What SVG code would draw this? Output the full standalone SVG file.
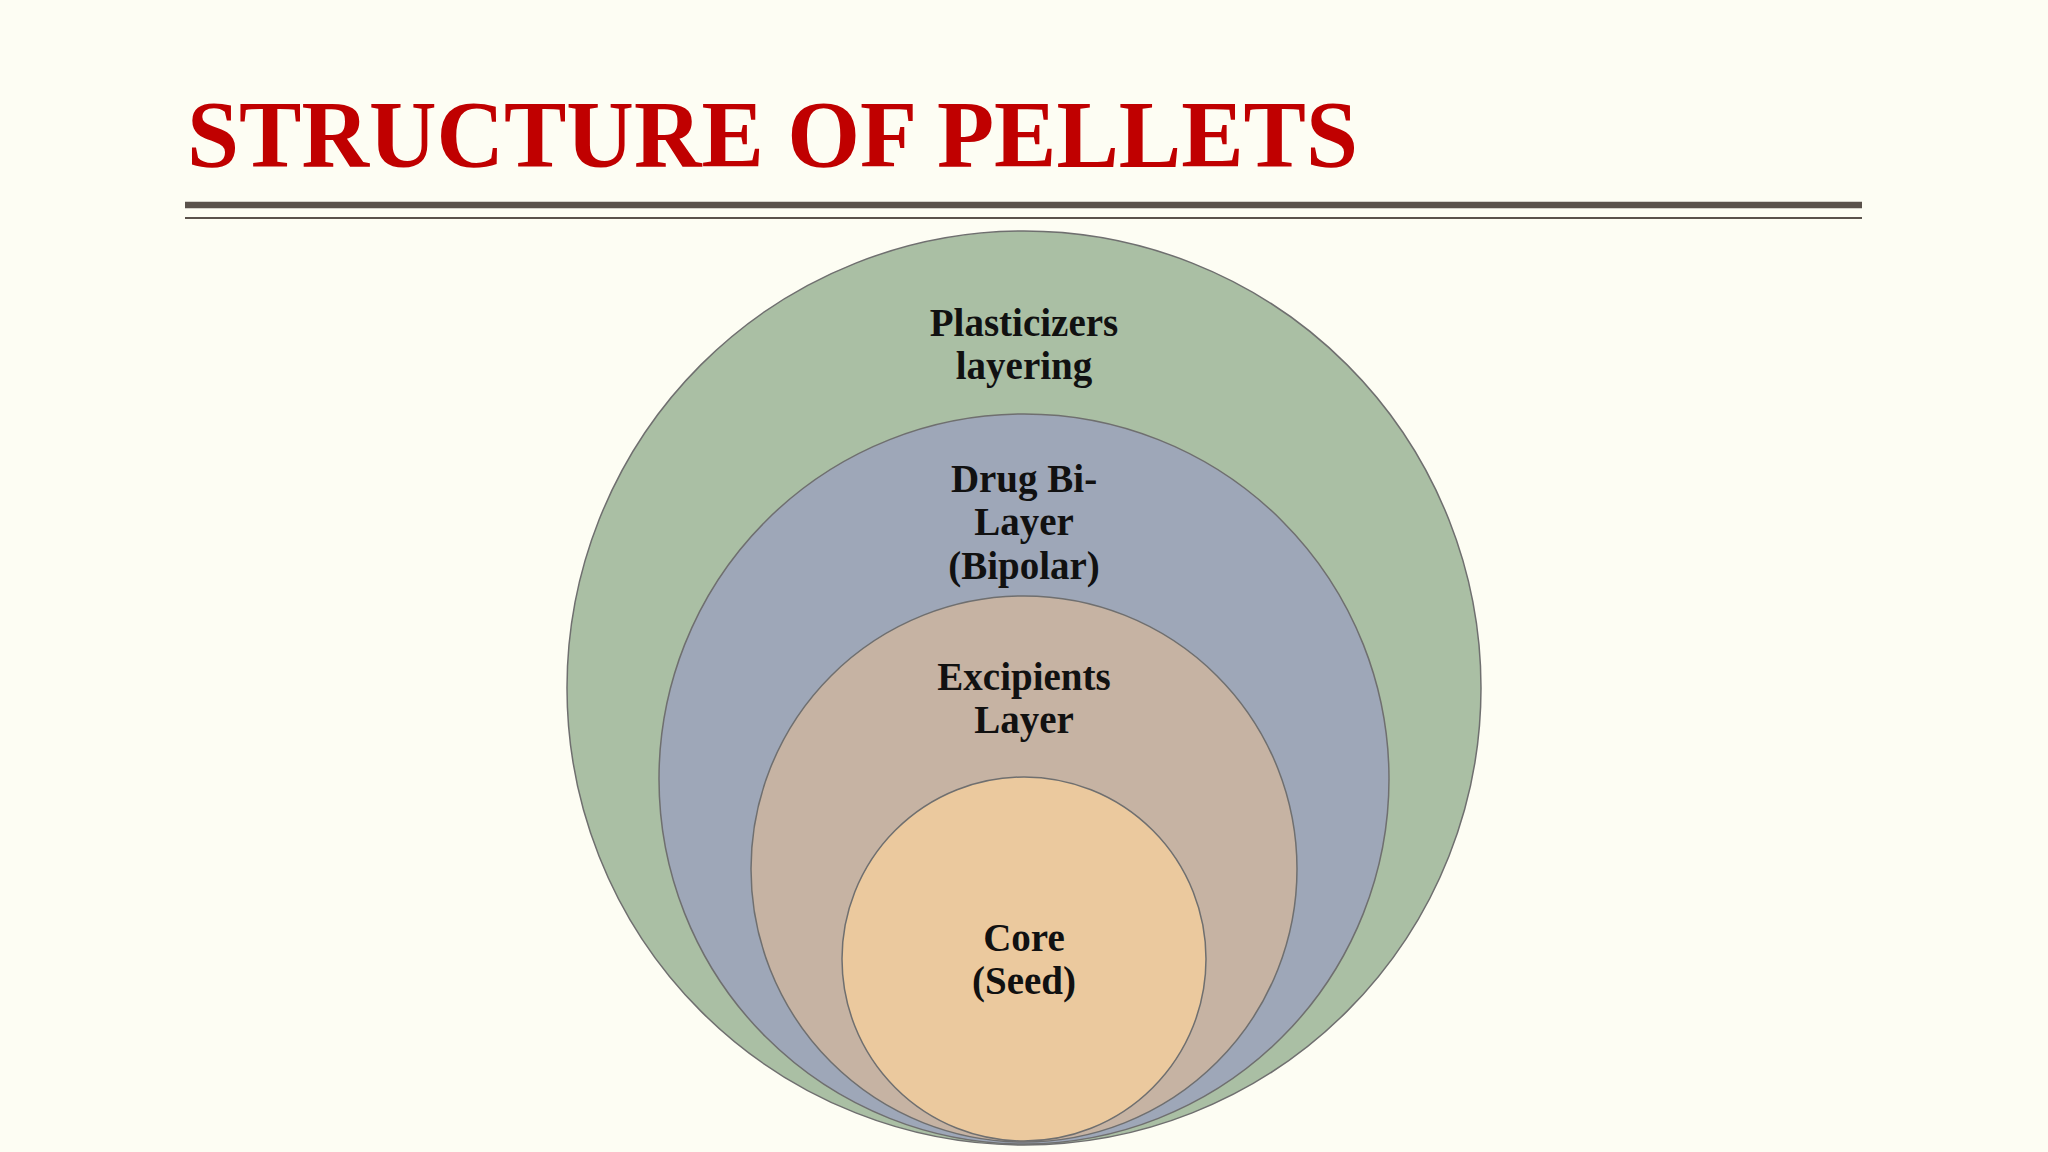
<svg xmlns="http://www.w3.org/2000/svg" width="2048" height="1152" viewBox="0 0 2048 1152">
<style>
.t{font-family:"Liberation Serif",serif;font-weight:bold;font-size:39px;fill:#111;text-anchor:middle}
.c{stroke:#6f6f6f;stroke-width:1.5}
</style>
<rect width="2048" height="1152" fill="#fdfdf3"/>
<text x="187" y="167" font-family="Liberation Serif,serif" font-weight="bold" font-size="96" fill="#c00000" textLength="1171" lengthAdjust="spacingAndGlyphs">STRUCTURE OF PELLETS</text>
<line x1="185" y1="205" x2="1862" y2="205" stroke="#5a524b" stroke-width="6.5"/>
<line x1="185" y1="218" x2="1862" y2="218" stroke="#5a524b" stroke-width="2"/>
<g id="n1"><circle class="c" cx="1024" cy="688" r="457" fill="#aabfa4"/>
<text class="t" x="1024" y="336">Plasticizers</text><text class="t" x="1024" y="379">layering</text></g>
<g id="n2"><circle class="c" cx="1024" cy="779" r="365" fill="#9ea7b8"/>
<text class="t" x="1024" y="492">Drug Bi-</text><text class="t" x="1024" y="535">Layer</text><text class="t" x="1024" y="579">(Bipolar)</text></g>
<g id="n3"><circle class="c" cx="1024" cy="869" r="273" fill="#c6b3a3"/>
<text class="t" x="1024" y="690">Excipients</text><text class="t" x="1024" y="733">Layer</text></g>
<g id="n4"><circle class="c" cx="1024" cy="959" r="182" fill="#ebc99e"/>
<text class="t" x="1024" y="951">Core</text><text class="t" x="1024" y="994">(Seed)</text></g>
<g id="connectors"/>
</svg>
